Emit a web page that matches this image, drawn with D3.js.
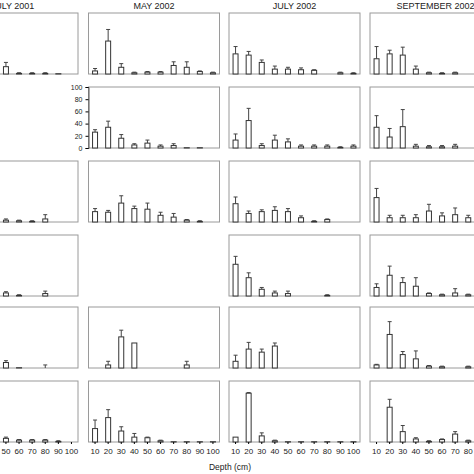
<!DOCTYPE html>
<html><head><meta charset="utf-8">
<script src="https://cdn.jsdelivr.net/npm/d3@7/dist/d3.min.js"></script>
<style>body{margin:0;background:#fff}</style></head>
<body><svg id="c" width="474" height="474"></svg>
<script>
const depths=[10,20,30,40,50,60,70,80,90,100];
const columns=["JULY 2001","MAY 2002","JULY 2002","SEPTEMBER 2002"];
const yTicks=[0,20,40,60,80,100];
// means per panel [row][col]; null = no panel
const means=[
 [[8,6,10,4,12,1,1,1,0.5,0],[5,54,11,2,3,3,14,11,4,2],[33,31,19,8,8,7,6,0,2,1],[25,33,31,8,2,1,2,0,0,0]],
 [null,[26,34,16,5,8,3,4,0.5,0.5,0],[13,45,4,13,10,3,3,3,1,3],[34,18,35,3,2,2,3,0,0,0]],
 [[4,5,3,2,3,2,1,5,0,0],[17,16,31,22,21,11,8,3,1,0],[30,14,17,19,17,7,1,4,0,0],[40,7,7,7,18,10,12,7,0,0]],
 [[3,4,2,3,5,1,0,4,0,0],null,[52,30,11,5,4,0,0,1,0,0],[14,34,22,16,4,2,5,2,0,0]],
 [[2,3,4,2,9,0.5,0,0,0,0],[0,5,51,41,0,0,0,5,0,0],[11,31,26,36,0,0,0,0,0,0],[5,55,22,15,3,2,0,2,0,0]],
 [[5,4,3,2,6,3,3,3,1,0],[22,40,18,8,7,2,0.5,0.5,0.5,0.5],[8,80,10,2,0.5,0.5,0.5,0.5,0.5,0.5],[0,57,17,5,1,4,13,2,0,0]]
];
// top of error bar (mean + SD)
const tops=[
 [[12,9,14,6,19,2,2,2,1,0],[9,73,17,3,4,4,20,20,5,3],[45,37,23,13,11,10,7,0,3,2],[45,39,44,13,3,2,3,0,0,0]],
 [null,[30,44,22,7,13,5,7,1,1,0],[23,65,7,21,15,5,5,5,2,5],[53,32,63,6,4,4,6,0,0,0]],
 [[6,7,5,3,5,3,2,12,0,0],[22,19,43,26,31,16,14,4,2,0],[41,18,20,25,22,10,2,5,0,0],[55,11,11,12,29,15,23,11,0,0]],
 [[4,6,3,4,7,2,0,8,0,0],null,[65,38,14,8,8,0,0,2,0,0],[20,49,30,30,5,3,12,3,0,0]],
 [[3,4,5,3,12,1,0,5,0,0],[0,11,62,41,0,0,0,11,0,0],[21,42,31,41,0,0,0,0,0,0],[6,76,27,28,4,3,0,3,0,0]],
 [[6,5,4,3,8,4,4,4,2,0],[36,53,25,14,8,3,1,1,1,1],[8,81,15,3,1,1,1,1,1,1],[0,70,27,7,2,5,17,3,0,0]]
];
const svg=d3.select("#c");
const colX=[-53,88.5,229,370], rowY=[13,87,161,235,307,381], W=131, H=61;
const x=d3.scaleBand().domain(depths).range([0,W]).paddingInner(0.62).paddingOuter(0.31);
const y=d3.scaleLinear().domain([0,100]).range([H,0]);
const f="Liberation Sans, Arial, sans-serif";
columns.forEach((c,i)=>svg.append("text").attr("x",colX[i]+W/2).attr("y",9).attr("text-anchor","middle")
  .attr("font-family",f).attr("font-size",9).attr("fill","#222").text(c));
means.forEach((row,r)=>row.forEach((vals,ci)=>{
  if(!vals)return;
  const g=svg.append("g").attr("transform",`translate(${colX[ci]},${rowY[r]})`);
  g.append("rect").attr("width",W).attr("height",H).attr("fill","none").attr("stroke","#9a9a9a").attr("stroke-width",1);
  depths.forEach((d,k)=>{
    const m=vals[k], t=tops[r][ci][k], cx=x(d)+x.bandwidth()/2;
    if(t>m+0.5){
      g.append("line").attr("x1",cx).attr("x2",cx).attr("y1",y(m)).attr("y2",y(t)).attr("stroke","#444");
      g.append("line").attr("x1",cx-2).attr("x2",cx+2).attr("y1",y(t)).attr("y2",y(t)).attr("stroke","#444");
    }
    if(m>0) g.append("rect").attr("x",x(d)).attr("y",y(m)).attr("width",x.bandwidth()).attr("height",H-y(m))
      .attr("fill","#fff").attr("stroke","#333").attr("stroke-width",1);
  });
  if(r===1&&ci===1){
    const ax=g.append("g").call(d3.axisLeft(y).tickValues(yTicks).tickSize(3));
    ax.select(".domain").attr("stroke","#555");
    ax.selectAll("text").attr("font-family",f).attr("font-size",7).attr("fill","#222");
  }
  if(r===5){
    const ax=g.append("g").attr("transform",`translate(0,${H})`).call(d3.axisBottom(x).tickSize(2));
    ax.select(".domain").remove();
    ax.selectAll("text").attr("font-family",f).attr("font-size",8).attr("fill","#222").attr("dy","0.9em");
  }
}));
svg.append("text").attr("x",230).attr("y",470).attr("text-anchor","middle").attr("font-family",f)
  .attr("font-size",8.5).attr("fill","#222").text("Depth (cm)");
</script></body></html>
